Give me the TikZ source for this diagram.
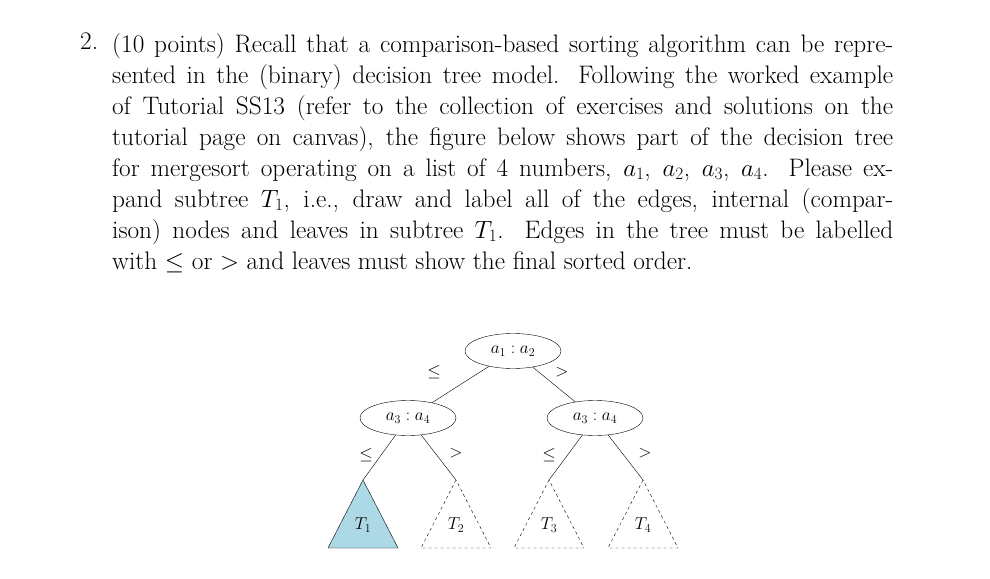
\documentclass[tikz,border=0pt]{standalone}
\usetikzlibrary{shapes.geometric}
\definecolor{tblue}{RGB}{173,216,230}
\tikzset{cmp/.style={draw,ellipse,minimum width=96pt,minimum height=35pt,inner sep=0pt,font=\fontsize{17}{20}\selectfont},
 lab/.style={font=\fontsize{17}{20}\selectfont},
 txt/.style={anchor=north west,inner sep=0pt,text width=781pt,align=justify,font=\fontsize{25.3}{31}\selectfont}}
\begin{document}
\begin{tikzpicture}[x=1pt,y=-1pt]
\useasboundingbox (0,0) rectangle (990,578);
\node[txt,text width=30pt,align=left] (num) at (80,33) {2.};
\node[txt] (para) at (112,33) {(10 points) Recall that a comparison-based sorting algorithm can be repre-\linebreak
sented in the (binary) decision tree model. Following the worked example of Tutorial SS13 (refer to the collection of exercises and solutions on the tutorial page on canvas), the figure below shows part of the decision tree for mergesort operating on a list of 4 numbers, $a_1$, $a_2$, $a_3$, $a_4$. Please expand subtree $T_1$, i.e., draw and label all of the edges, internal (compar-\linebreak
ison) nodes and leaves in subtree $T_1$. Edges in the tree must be labelled with $\le$ or $>$ and leaves must show the final sorted order.};
\node[cmp] (r) at (513,351) {$a_1 : a_2$};
\node[cmp] (l) at (408,418) {$a_3 : a_4$};
\node[cmp] (rr) at (595,418) {$a_3 : a_4$};
\coordinate (t1) at (363,480);
\coordinate (t2) at (456,480);
\coordinate (t3) at (549,480);
\coordinate (t4) at (643,480);
\fill[tblue] (t1) -- ++(-35,68) -- ++(70,0) -- cycle;
\draw (t1) -- ++(-35,68) -- ++(70,0) -- cycle;
\foreach \t in {t2,t3,t4} \draw[dashed] (\t) -- ++(-35,68) -- ++(70,0) -- cycle;
\node[lab] (T1) at (363,525) {$T_1$};
\node[lab] (T2) at (456,525) {$T_2$};
\node[lab] (T3) at (549,525) {$T_3$};
\node[lab] (T4) at (643,525) {$T_4$};
\draw (r) -- (l);
\draw (r) -- (rr);
\draw (l) -- (t1);
\draw (l) -- (t2);
\draw (rr) -- (t3);
\draw (rr) -- (t4);
\node[lab] (e1) at (434,372) {$\le$};
\node[lab] (e2) at (562,372) {$>$};
\node[lab] (e3) at (366,455) {$\le$};
\node[lab] (e4) at (456,453) {$>$};
\node[lab] (e5) at (549,455) {$\le$};
\node[lab] (e6) at (645,453) {$>$};
\end{tikzpicture}
\end{document}
